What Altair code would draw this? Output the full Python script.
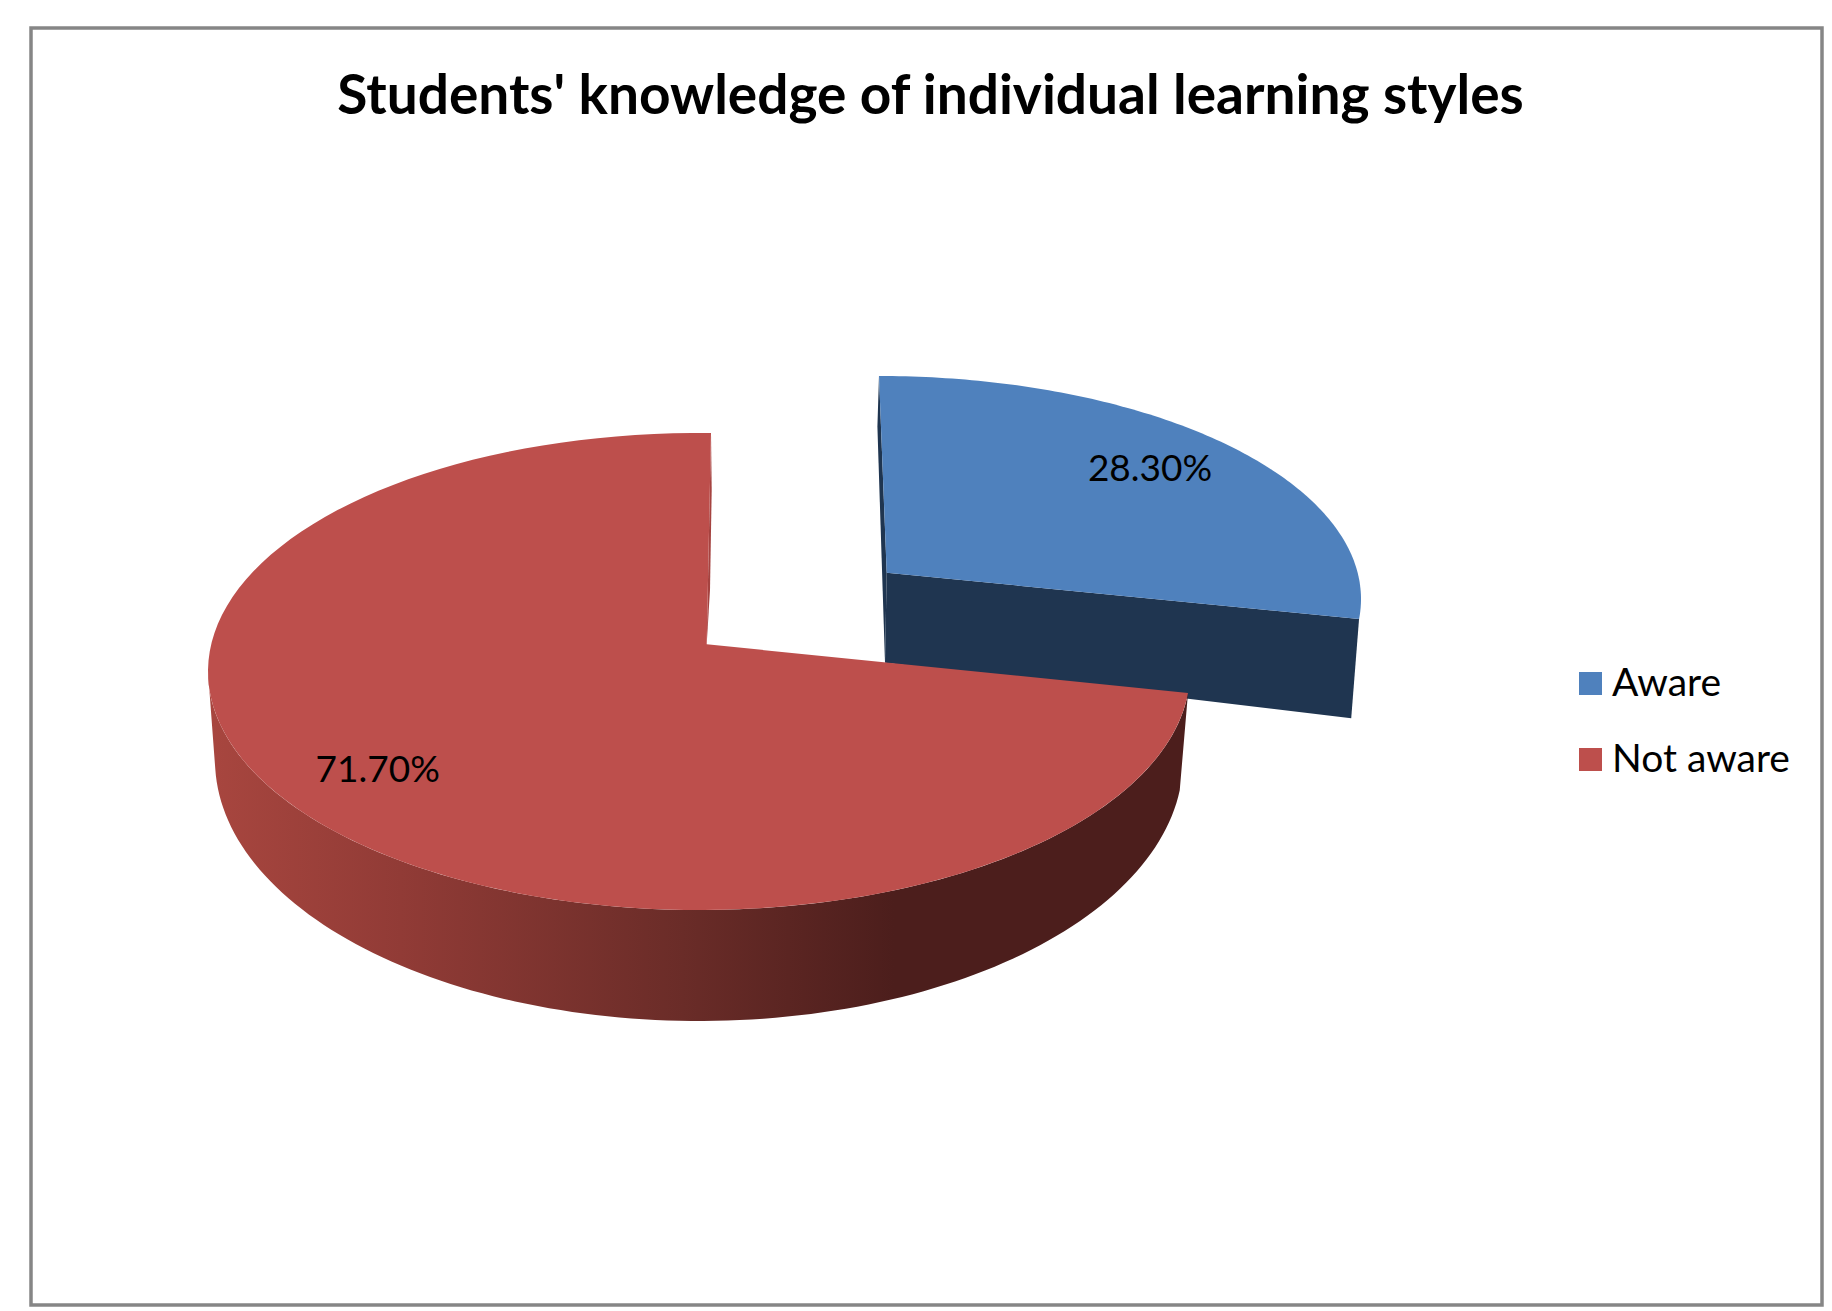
import math
import altair as alt

TITLE = "Students' knowledge of individual learning styles"
CATEGORIES = ["Aware", "Not aware"]
SHARES = [28.3, 71.7]
LABELS = ["28.30%", "71.70%"]
COLORS = ["#4f81bd", "#bd4f4c"]
WALL_BLUE = "#1f3550"
WALL_RED_INNER = "#a54340"
FRAME = "#868686"

# 3-D look of the pie: ellipse of each slice's top rim, in page pixels
RED = dict(c=(699.0, 671.5), a=491.0, b=238.5, apex=(706.7, 644.3))
RED_LOW = dict(c=(699.0, 760.0), a=484.0, b=261.0)
BLUE = dict(c=(879.0, 599.0), a=482.0, b=223.0, apex=(886.7, 572.7))
BLUE_LOW = dict(apex=(885.0, 662.7), fx=0.987, fy=1.2)
START = 0.0
WARP_BLUE = 0.934     # perspective squeeze of angles
RED_SPAN_END = 361.4
PX_X, PX_Y = 31, 28   # plot origin on the page
PLOT_W, PLOT_H = 1791, 1277


def rim(e, phi):
    r = math.radians(phi)
    return (e["c"][0] + e["a"] * math.sin(r), e["c"][1] - e["b"] * math.cos(r))


def arc(e, p0, p1, n=120):
    return [rim(e, p0 + (p1 - p0) * i / n) for i in range(n + 1)]


def feature(name, pts):
    ring = [list(p) for p in pts] + [list(pts[0])]
    return {"type": "Feature", "properties": {"name": name},
            "geometry": {"type": "Polygon", "coordinates": [ring]}}


def blue_low(p):
    a = BLUE["apex"]
    return (BLUE_LOW["apex"][0] + BLUE_LOW["fx"] * (p[0] - a[0]),
            BLUE_LOW["apex"][1] + BLUE_LOW["fy"] * (p[1] - a[1]))


phi_split = START + 360 * SHARES[0] / 100 * WARP_BLUE

blue_arc = arc(BLUE, START, phi_split)
red_arc = arc(RED, phi_split, RED_SPAN_END)
blue_top = feature(CATEGORIES[0], [BLUE["apex"]] + blue_arc)
red_top = feature(CATEGORIES[1], [RED["apex"]] + red_arc)

blue_front = feature("w", [BLUE["apex"], blue_arc[-1], blue_low(blue_arc[-1]), blue_low(BLUE["apex"])])
blue_back = feature("w", [blue_arc[0], BLUE["apex"], blue_low(BLUE["apex"]), blue_low(blue_arc[0])])
red_inner = feature("w", [red_arc[-1], RED["apex"], (710.0, 590.0), (711.7, 490.0)])
red_side = feature("w", arc(RED, phi_split, 270) + arc(RED_LOW, 268, phi_split + 1.5))

proj = alt.Projection(type="identity", scale=1, translate=[-PX_X, -PX_Y])
GEO = dict(filled=True, strokeWidth=0)

frame = alt.Chart(alt.Data(values=[{"f": 1}])).mark_rect(
    fillOpacity=0, stroke=FRAME, strokeWidth=3.5
).encode(x=alt.value(0), x2=alt.value(PLOT_W), y=alt.value(0), y2=alt.value(PLOT_H))

walls_blue = alt.Chart(alt.Data(values=[blue_back, blue_front]), projection=proj).mark_geoshape(fill=WALL_BLUE, **GEO)
wall_inner = alt.Chart(alt.Data(values=[red_inner]), projection=proj).mark_geoshape(fill=WALL_RED_INNER, **GEO)
wall_red = alt.Chart(alt.Data(values=[red_side]), projection=proj).mark_geoshape(
    fill=alt.Gradient(
        gradient="linear", x1=0, x2=1, y1=0, y2=0,
        stops=[
            alt.GradientStop(offset=0, color="#a8463f"),
            alt.GradientStop(offset=0.197, color="#913b36"),
            alt.GradientStop(offset=0.485, color="#6a2c28"),
            alt.GradientStop(offset=0.70, color="#4c1e1c"),
            alt.GradientStop(offset=1, color="#4c1e1c"),
        ],
    ),
    **GEO,
)

tops = alt.Chart(alt.Data(values=[red_top, blue_top]), projection=proj).mark_geoshape(**GEO).encode(
    color=alt.Color(
        "properties.name:N",
        scale=alt.Scale(domain=CATEGORIES, range=COLORS),
        legend=alt.Legend(
            title=None, orient="none", legendX=1540, legendY=636,
            symbolType="square", symbolSize=529, symbolStrokeWidth=0,
            labelFont="Lato", labelFontSize=39, labelColor="#000000",
            labelOffset=2, rowPadding=36, labelLimit=400,
        ),
    )
)

label_table = alt.Data(values=[
    {"t": LABELS[0], "x": 1150.0, "y": 469.5},
    {"t": LABELS[1], "x": 377.7, "y": 771.0},
])
labels = alt.Chart(label_table, projection=proj).mark_text(
    font="Lato", fontSize=37, color="#000000", align="center", baseline="middle"
).encode(longitude="x:Q", latitude="y:Q", text="t:N")

chart = alt.layer(frame, walls_blue, wall_inner, wall_red, tops, labels).properties(
    width=PLOT_W, height=PLOT_H,
    padding={"left": 23, "top": 20, "right": 2, "bottom": 2},
    autosize=alt.AutoSizeParams(type="none"),
    background="#ffffff",
    title=alt.TitleParams(
        TITLE, anchor="middle", font="Lato", fontSize=55, fontWeight="bold",
        color="#000000", baseline="alphabetic", dy=147, dx=4,
    ),
).configure_view(stroke=None)

chart.save("out.html", embed_options={"renderer": "svg", "actions": False})
